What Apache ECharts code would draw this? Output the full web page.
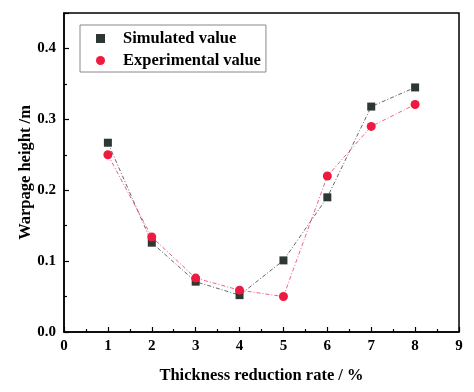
<!DOCTYPE html>
<html><head><meta charset="utf-8">
<script src="https://cdn.jsdelivr.net/npm/echarts@6/dist/echarts.min.js"></script>
<style>html,body{margin:0;padding:0;background:#fff;}#c{width:474px;height:392px;}</style>
</head><body><div id="c"></div>
<script>
const xValues = [1, 2, 3, 4, 5, 6, 7, 8];
const simulated = [0.267, 0.126, 0.071, 0.052, 0.101, 0.190, 0.318, 0.345];
const experimental = [0.250, 0.134, 0.076, 0.059, 0.050, 0.220, 0.290, 0.321];
const seriesNames = ['Simulated value', 'Experimental value'];
const xTitle = 'Thickness reduction rate / %';
const yTitle = 'Warpage height /m';

const font = 'Liberation Serif';
const chart = echarts.init(document.getElementById('c'));
const pair = (xs, ys) => xs.map((x, i) => [x, ys[i]]);
chart.setOption({
  animation: false,
  grid: { left: 64, right: 15, top: 13, bottom: 60, show: true, borderColor: '#000', borderWidth: 1.5 },
  legend: {
    orient: 'vertical', left: 80, top: 25,
    padding: [5, 5, 3, 16], itemGap: 5,
    borderColor: '#888', borderWidth: 1,
    itemWidth: 9, itemHeight: 9,
    textStyle: { fontFamily: font, fontWeight: 'bold', fontSize: 16.5, color: '#000', lineHeight: 17, padding: [0, 0, 0, 13] },
    data: [
      { name: seriesNames[0], icon: 'rect', itemStyle: { color: '#2d3833' } },
      { name: seriesNames[1], icon: 'circle', itemStyle: { color: '#ee1a40' } }
    ]
  },
  xAxis: {
    type: 'value', min: 0, max: 9, interval: 1,
    name: xTitle, nameLocation: 'middle', nameGap: 35, nameMoveOverlap: false,
    nameTextStyle: { fontFamily: font, fontWeight: 'bold', fontSize: 16.5, color: '#000' },
    axisLine: { show: true, lineStyle: { color: '#000', width: 1.5 } },
    axisTick: { show: true, inside: true, length: 5, lineStyle: { color: '#000', width: 1.2 } },
    minorTick: { show: true, splitNumber: 2, length: 3, lineStyle: { color: '#000', width: 1.2 } },
    axisLabel: { fontFamily: font, fontWeight: 'bold', fontSize: 15, color: '#000', margin: 7 },
    splitLine: { show: false }
  },
  yAxis: {
    type: 'value', min: 0, max: 0.45, interval: 0.1,
    name: yTitle, nameLocation: 'middle', nameGap: 30, nameMoveOverlap: false,
    nameTextStyle: { fontFamily: font, fontWeight: 'bold', fontSize: 16.5, color: '#000' },
    axisLine: { show: true, lineStyle: { color: '#000', width: 1.5 } },
    axisTick: { show: true, inside: true, length: 5, lineStyle: { color: '#000', width: 1.2 } },
    minorTick: { show: true, splitNumber: 2, length: 3, lineStyle: { color: '#000', width: 1.2 } },
    axisLabel: { fontFamily: font, fontWeight: 'bold', fontSize: 15, color: '#000', margin: 8,
      showMaxLabel: false, formatter: v => v.toFixed(1) },
    splitLine: { show: false }
  },
  series: [
    {
      name: seriesNames[0], type: 'line', data: pair(xValues, simulated),
      symbol: 'rect', symbolSize: 8,
      itemStyle: { color: '#2d3833' },
      lineStyle: { color: '#666', width: 1, type: [4, 2, 1, 2] },
      z: 3
    },
    {
      name: seriesNames[1], type: 'line', data: pair(xValues, experimental),
      symbol: 'circle', symbolSize: 9,
      itemStyle: { color: '#ee1a40' },
      lineStyle: { color: '#f06080', width: 1, type: [4, 2, 1, 2] },
      z: 4
    }
  ]
});
</script></body></html>
